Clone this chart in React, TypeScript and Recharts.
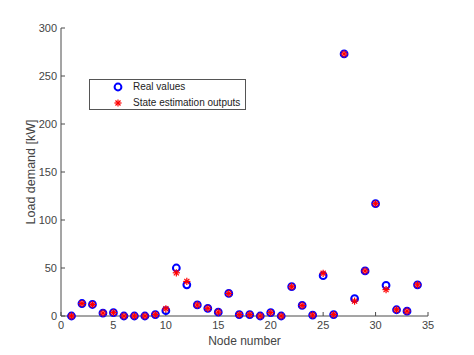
import React from 'react';
import { ScatterChart, Scatter, XAxis, YAxis, Legend, Label } from 'recharts';

// node index 1..34
const nodes = Array.from({ length: 34 }, (_, i) => i + 1);

const realValues = [
  0, 13, 12, 3, 3.5, 0, 0, 0, 1.5, 5.5,
  50, 32.5, 11.5, 8, 4, 23.5, 1.5, 1.5, 0, 3.5,
  0, 30.5, 11, 1, 42, 1.5, 273, 18, 47, 117,
  32, 6.5, 5, 32.5,
];

const estimatedValues = [
  0, 13, 12, 3, 3.5, 0, 0, 0, 1.5, 7.5,
  45, 36, 11.5, 8, 4, 23.5, 1.5, 1.5, 0, 3.5,
  0, 30.5, 11, 1, 44.5, 1.5, 273, 15.5, 47, 117,
  27.5, 6.5, 5, 32.5,
];

const xTicks = [0, 5, 10, 15, 20, 25, 30, 35];
const yTicks = [0, 50, 100, 150, 200, 250, 300];

const realData = nodes.map((n, i) => ({ node: n, value: realValues[i] }));
const estData = nodes.map((n, i) => ({ node: n, value: estimatedValues[i] }));

const FONT = '"Liberation Sans", Arial, sans-serif';
const AXIS = '#4a4a4a';
const TEXT = '#444';

const Circle = (props: any) => {
  const { cx, cy } = props;
  return <circle cx={cx} cy={cy} r={3.4} fill="none" stroke="#0000ff" strokeWidth={2} />;
};

const Asterisk = (props: any) => {
  const { cx, cy } = props;
  const r = 3.6;
  const d = r * 0.7;
  return (
    <g stroke="#ff0000" strokeWidth={1.2}>
      <line x1={cx - r} y1={cy} x2={cx + r} y2={cy} />
      <line x1={cx} y1={cy - r} x2={cx} y2={cy + r} />
      <line x1={cx - d} y1={cy - d} x2={cx + d} y2={cy + d} />
      <line x1={cx - d} y1={cy + d} x2={cx + d} y2={cy - d} />
    </g>
  );
};

const renderLegend = () => (
  <div
    style={{
      width: 155,
      height: 29,
      border: '1px solid #555',
      background: '#fff',
      fontFamily: FONT,
      fontSize: 10,
      color: '#222',
      position: 'relative',
      whiteSpace: 'nowrap',
    }}
  >
    <svg width={20} height={29} style={{ position: 'absolute', left: 18, top: 0 }}>
      <Circle cx={10} cy={7} />
      <Asterisk cx={10} cy={23} />
    </svg>
    <div style={{ position: 'absolute', left: 43, top: 1, lineHeight: '12px' }}>Real values</div>
    <div style={{ position: 'absolute', left: 43, top: 17, lineHeight: '12px' }}>State estimation outputs</div>
  </div>
);

export default function App() {
  return (
    <div style={{ position: 'absolute', left: 0, top: 0, width: 474, height: 355, background: '#fff' }}>
      <ScatterChart width={474} height={355} margin={{ top: 28, right: 46, bottom: 0, left: 0 }}>
        <XAxis
          dataKey="node"
          type="number"
          domain={[0, 35]}
          ticks={xTicks}
          height={39}
          stroke={AXIS}
          tickSize={-4}
          tickMargin={9}
          tick={{ fill: TEXT, fontSize: 11, fontFamily: FONT }}
        >
          <Label
            content={() => (
              <text x={244.5} y={345} textAnchor="middle" fill={TEXT} fontSize={12} fontFamily={FONT}>
                Node number
              </text>
            )}
          />
        </XAxis>
        <XAxis xAxisId="top" orientation="top" type="number" domain={[0, 35]} ticks={xTicks} height={0} stroke={AXIS} tickSize={-4} tick={false} />
        <YAxis
          dataKey="value"
          type="number"
          domain={[0, 300]}
          ticks={yTicks}
          width={61}
          stroke={AXIS}
          tickSize={-4}
          tickMargin={8}
          tick={{ fill: TEXT, fontSize: 11, fontFamily: FONT }}
        >
          <Label
            content={() => (
              <text
                x={35}
                y={172}
                transform="rotate(-90 35 172)"
                textAnchor="middle"
                fill={TEXT}
                fontSize={12.5}
                fontFamily={FONT}
              >
                Load demand [kW]
              </text>
            )}
          />
        </YAxis>
        <YAxis yAxisId="right" orientation="right" type="number" domain={[0, 300]} ticks={yTicks} width={0} stroke={AXIS} tickSize={-4} tick={false} />
        <Legend
          layout="horizontal"
          verticalAlign="middle"
          align="center"
          content={renderLegend}
          wrapperStyle={{ position: 'absolute', left: 89, top: 79, width: 157, height: 31 }}
        />
        <Scatter name="Real values" data={realData} shape={<Circle />} isAnimationActive={false} />
        <Scatter name="State estimation outputs" data={estData} shape={<Asterisk />} isAnimationActive={false} />
      </ScatterChart>
    </div>
  );
}
